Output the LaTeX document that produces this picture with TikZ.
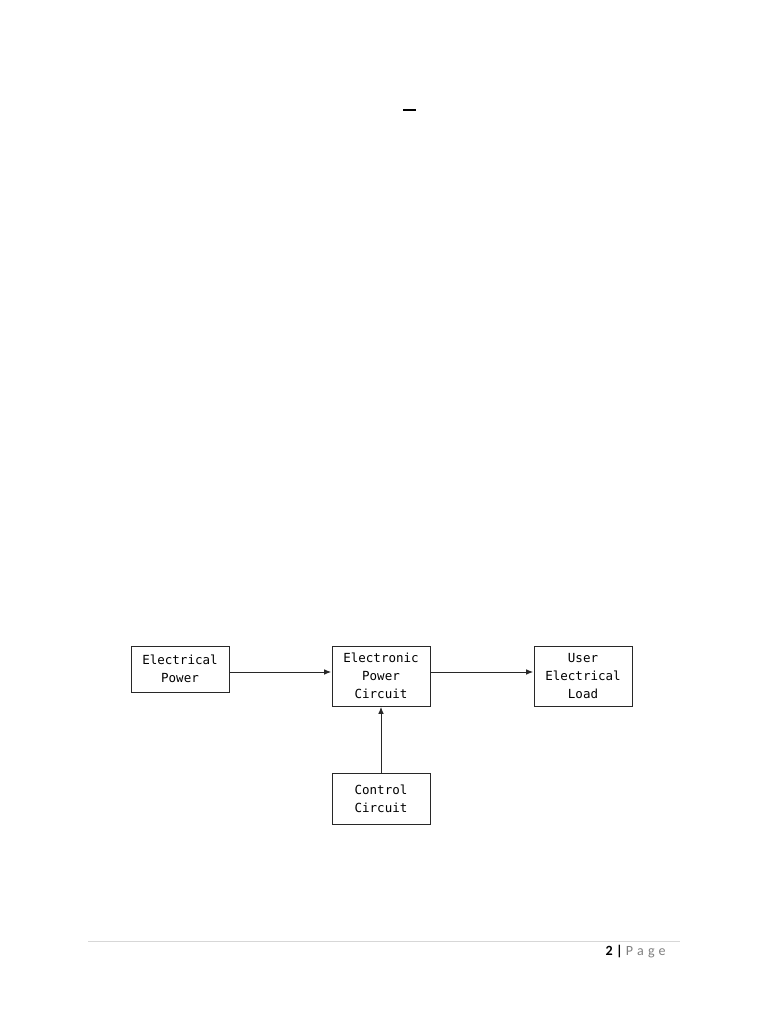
\documentclass[tikz,border=0pt]{standalone}
\usepackage{fontspec}
\setmonofont{DejaVu Sans Mono}
\newfontfamily\footfont{Carlito}
\usetikzlibrary{calc}
\usetikzlibrary{positioning}
\usetikzlibrary{arrows.meta}
\definecolor{ln}{RGB}{40,40,40}
\definecolor{ft}{RGB}{128,128,128}
\definecolor{rl}{RGB}{215,215,215}

\begin{document}
\begin{tikzpicture} [
    x=0.025cm, y=-0.025cm,
    >={Latex[length=5pt,width=4pt]},
    blk/.style={
        font=\ttfamily\fontsize{8.9}{12.8}\selectfont,
        align=center,
        draw=ln, line width=0.6pt,
        minimum width=2.45cm,
        inner sep=0pt
    },
    con/.style={->, line width=0.7pt, color=ln, shorten >=0.3pt}
]

\path [use as bounding box, fill=white] (0,0) rectangle (768,1024);

% top mark
\draw [line width=1.8pt] (403,110) -- (416,110);

\node [blk,minimum height=1.15cm] (pwr)  at (180,669)   {Electrical\\Power};
\node [blk,minimum height=1.5cm]  (epc)  at (381,676)   {Electronic\\Power\\Circuit};
\node [blk,minimum height=1.5cm]  (load) at (583,676)   {User\\Electrical\\Load};
\node [blk,minimum height=1.275cm] (ctl) at (381,798.5) {Control\\Circuit};

\coordinate (a1) at ($(pwr.east)+(0,3)$);

\draw [con] (a1) -- (a1 -| epc.west);
\draw [con] (a1 -| epc.east) -- (a1 -| load.west);
\draw [con] (ctl.north) -- (epc.south);

% footer
\coordinate (fl) at (88,941);
\coordinate (fr) at (680,941);
\draw [rl, line width=0.6pt] (fl) -- (fr);
\node [anchor=east, font=\footfont\fontsize{10}{12}\selectfont, inner sep=0pt]
    (pg) at (666,952) {\textbf{2 |} \textcolor{ft}{\addfontfeatures{LetterSpace=30}Page}};

\end{tikzpicture}
\end{document}
